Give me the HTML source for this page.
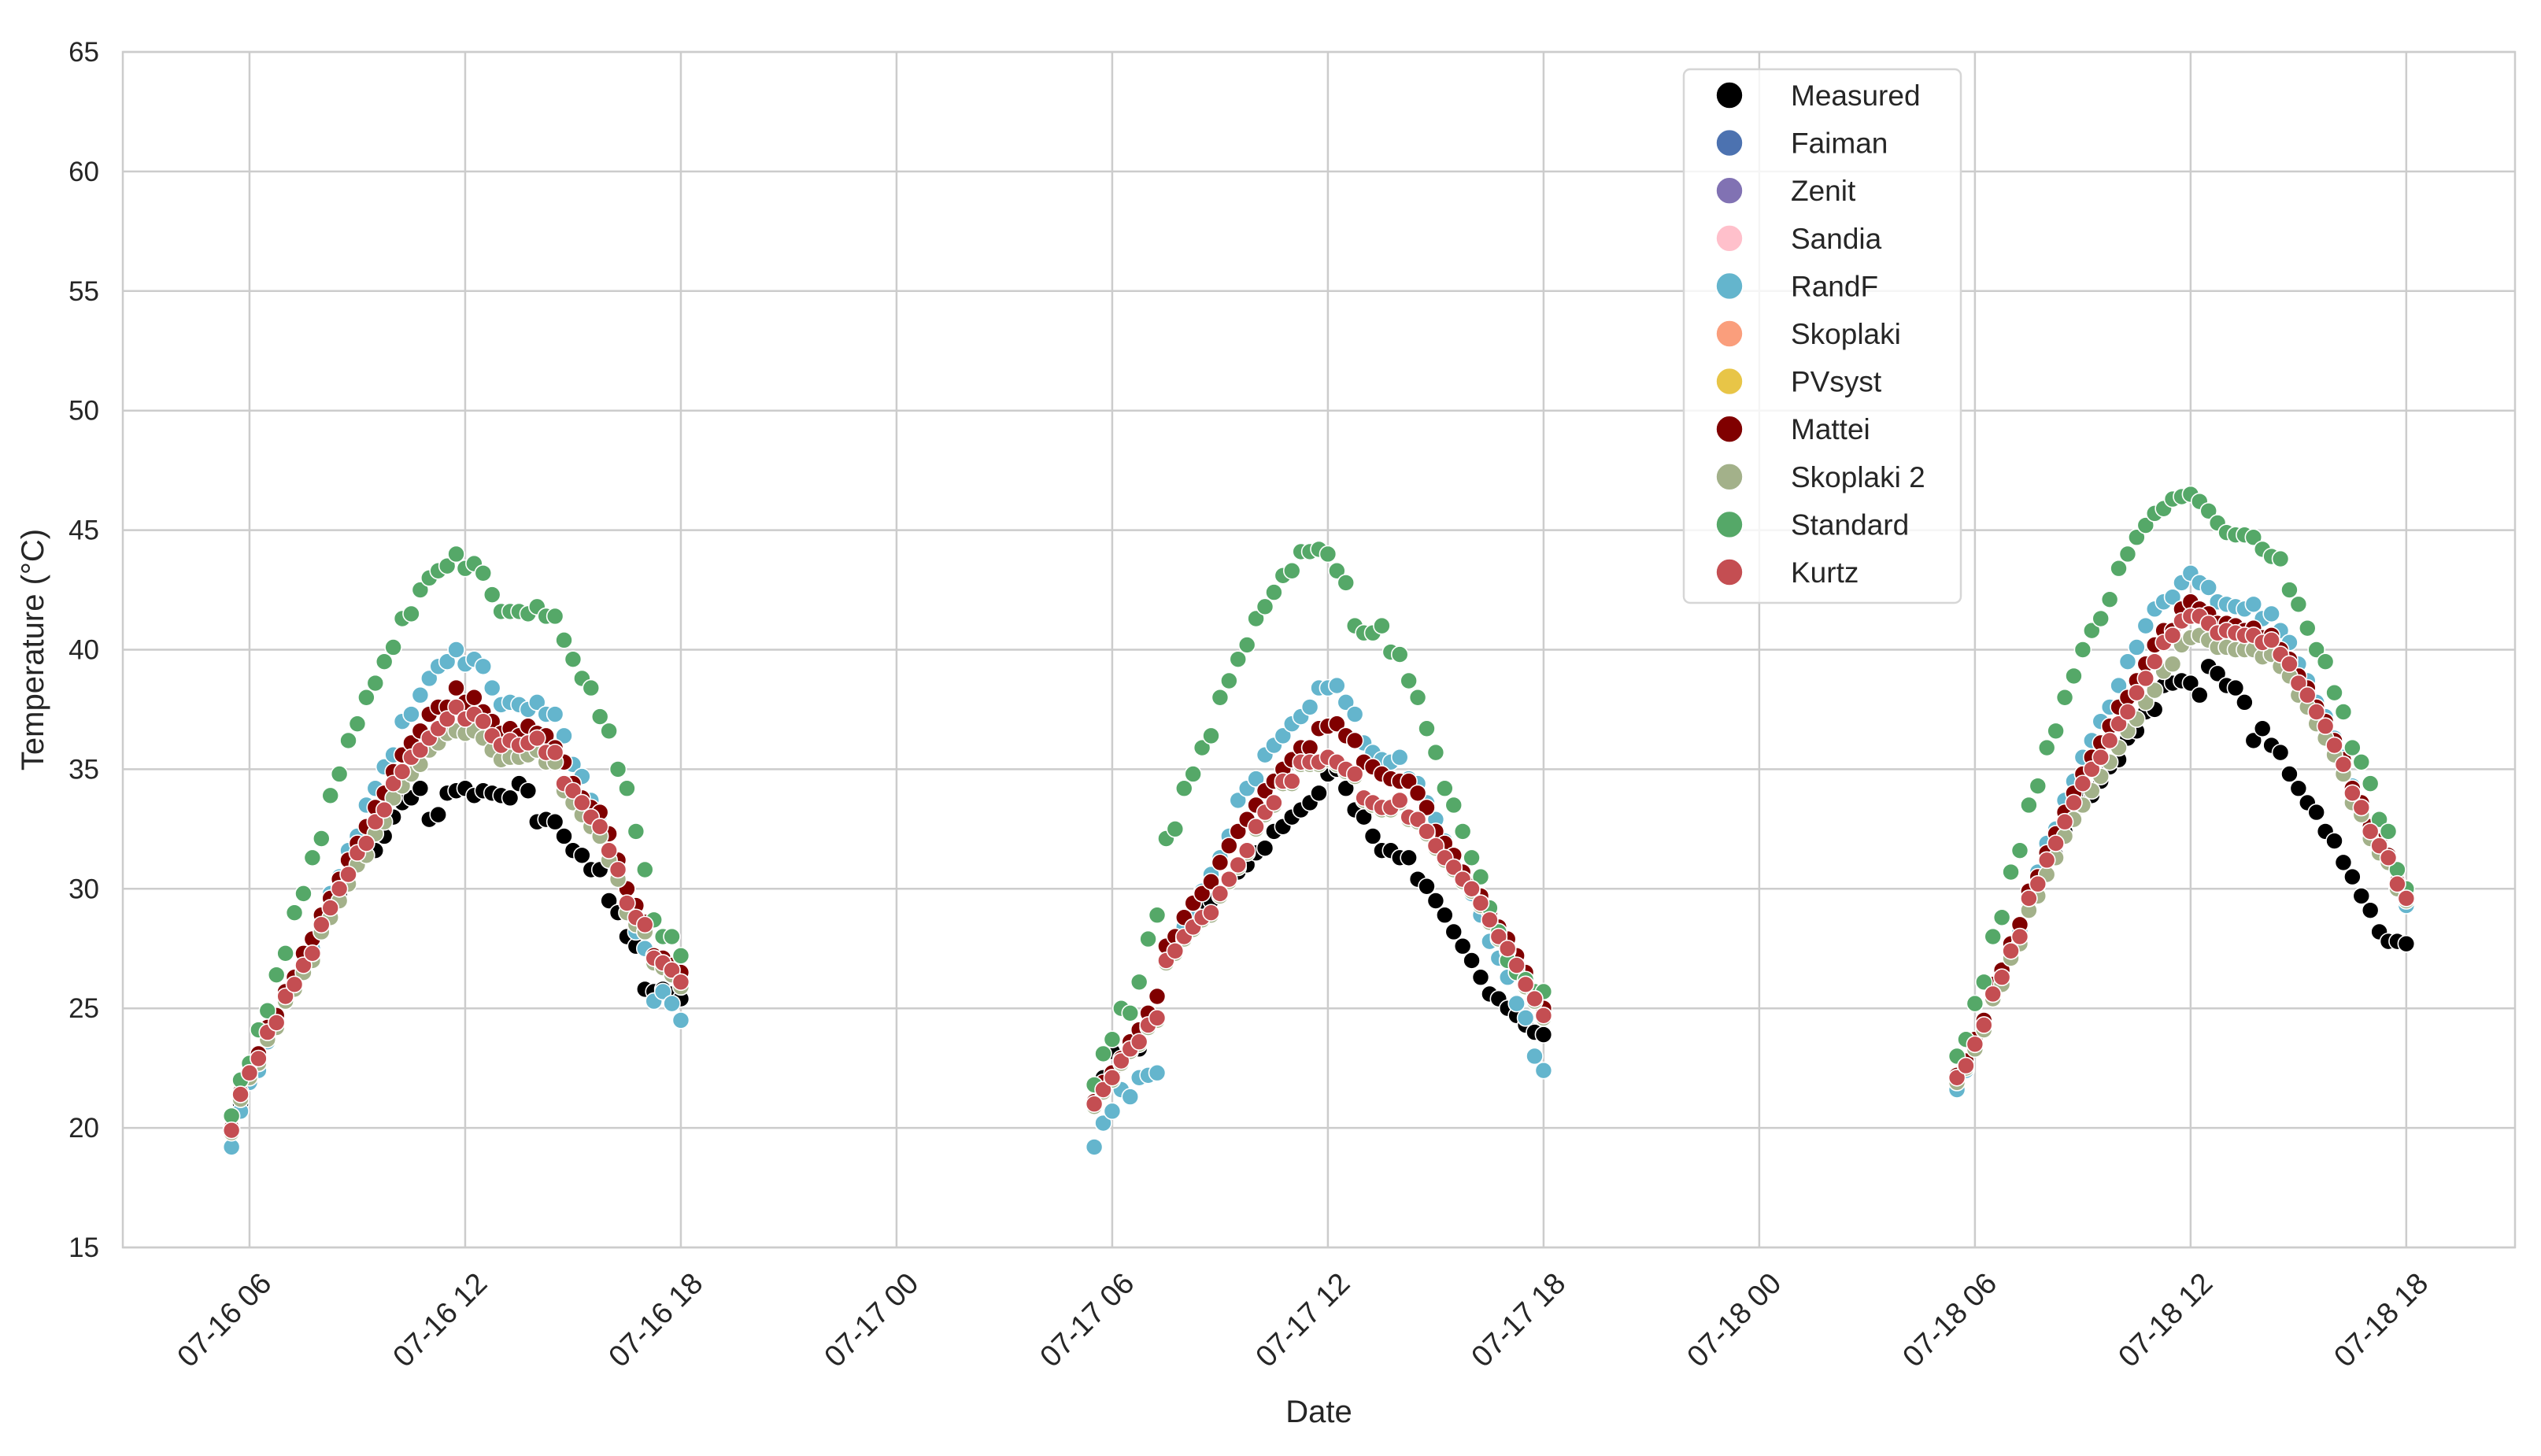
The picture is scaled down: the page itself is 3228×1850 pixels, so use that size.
<!DOCTYPE html>
<html><head><meta charset="utf-8">
<style>
html,body{margin:0;padding:0;background:#fff;}
svg{display:block;font-family:"Liberation Sans",Arial,sans-serif;}
</style></head>
<body>
<svg id="chart" width="3228" height="1850" viewBox="0 0 3228 1850" xmlns="http://www.w3.org/2000/svg">
<rect x="0" y="0" width="3228" height="1850" fill="#fff"/>
<g id="grid"></g>
<g id="marks"></g>
<g id="axes"></g>
<g id="legend"></g>
</svg>
<script>
const days = ['07-16','07-17','07-18'];
const startHour = 5.5;
const stepHour = 0.25;
const yTicks = [15,20,25,30,35,40,45,50,55,60,65];
const xTickHours = [6,12,18,24,30,36,42,48,54,60,66];
const xTickLabels = ['07-16 06','07-16 12','07-16 18','07-17 00','07-17 06','07-17 12','07-17 18','07-18 00','07-18 06','07-18 12','07-18 18'];
const seriesNames = ['Measured','Faiman','Zenit','Sandia','RandF','Skoplaki','PVsyst','Mattei','Skoplaki 2','Standard','Kurtz'];
const seriesColors = ['#000000','#4c72b0','#8172b3','#ffc0cb','#64b5cd','#fa9e7c','#e8c547','#800000','#a3b18a','#55a868','#c44e52'];

const measured = [
19.9,21,22.3,22.8,24,24.6,25.5,26.2,26.6,27.9,28.2,29.1,29.8,30.6,31.2,31.6,31.6,32.2,33.0,33.6,33.8,34.2,32.9,33.1,34.0,34.1,34.2,33.9,34.1,34.0,33.9,33.8,34.4,34.1,32.8,32.9,32.8,32.2,31.6,31.4,30.8,30.8,29.5,29.0,28.0,27.6,25.8,25.7,25.8,25.6,25.4,
21.0,22.1,23.2,22.9,23.4,23.3,24.2,24.5,27.6,27.7,28.4,28.9,29.4,29.5,29.7,30.3,30.7,31.0,31.5,31.7,32.4,32.6,33.0,33.3,33.6,34.0,34.8,35.0,34.2,33.3,33.0,32.2,31.6,31.6,31.3,31.3,30.4,30.1,29.5,28.9,28.2,27.6,27.0,26.3,25.6,25.4,25.0,24.7,24.3,24.0,23.9,
22.2,22.8,23.6,24.4,25.8,26.4,27.4,28.0,29.2,30.3,30.6,31.4,32.4,33.0,33.7,33.9,34.5,35.1,35.4,36.3,36.6,37.4,37.5,38.5,38.6,38.7,38.6,38.1,39.3,39.0,38.5,38.4,37.8,36.2,36.7,36.0,35.7,34.8,34.2,33.6,33.2,32.4,32.0,31.1,30.5,29.7,29.1,28.2,27.8,27.8,27.7];
const randf = [
19.2,20.7,21.9,22.4,23.6,24.2,25.3,25.8,26.9,27.5,28.7,29.8,30.5,31.6,32.2,33.5,34.2,35.1,35.6,37.0,37.3,38.1,38.8,39.3,39.5,40.0,39.4,39.6,39.3,38.4,37.7,37.8,37.7,37.5,37.8,37.3,37.3,36.4,35.2,34.7,33.7,33.1,31.6,30.6,29.4,28.2,27.5,25.3,25.7,25.2,24.5,
19.2,20.2,20.7,21.6,21.3,22.1,22.2,22.3,27.6,28.0,28.4,29.0,29.9,30.6,31.3,32.2,33.7,34.2,34.6,35.6,36.0,36.4,36.9,37.2,37.6,38.4,38.4,38.5,37.8,37.3,36.1,35.7,35.4,35.3,35.5,34.6,34.4,33.6,32.9,32.0,31.3,30.6,29.8,28.9,27.8,27.1,26.3,25.2,24.6,23.0,22.4,
21.6,22.4,23.5,24.3,25.7,26.2,27.4,28.2,29.9,30.7,31.9,32.5,33.7,34.5,35.5,36.2,37.0,37.6,38.5,39.5,40.1,41.0,41.7,42.0,42.2,42.8,43.2,42.8,42.6,42.0,41.9,41.8,41.7,41.9,41.3,41.5,40.8,40.3,39.4,38.7,37.8,37.2,36.3,35.5,34.3,33.6,32.6,32.0,31.3,30.0,29.3];
const mattei = [
20.0,21.5,22.4,23.1,24.2,24.7,25.7,26.3,27.3,27.9,28.9,29.6,30.4,31.2,31.9,32.6,33.4,34.0,34.9,35.6,36.1,36.6,37.3,37.6,37.6,38.4,37.8,38.0,37.4,37.0,36.5,36.7,36.4,36.8,36.5,36.4,35.9,35.3,34.4,33.8,33.4,33.2,32.3,31.2,30.0,29.3,28.6,27.2,27.1,26.8,26.5,
21.1,21.9,22.3,22.9,23.6,24.1,24.8,25.5,27.6,28.0,28.8,29.4,29.8,30.3,31.1,31.8,32.4,32.9,33.5,34.1,34.5,35.0,35.4,35.9,35.9,36.7,36.8,36.9,36.4,36.2,35.3,35.1,34.8,34.6,34.5,34.5,34.0,33.4,32.4,31.9,31.4,30.7,30.1,29.7,29.0,28.4,27.9,27.2,26.5,25.6,25.0,
22.2,22.8,23.7,24.5,26.0,26.6,27.7,28.5,29.9,30.5,31.5,32.3,33.2,34.0,34.8,35.5,36.1,36.8,37.6,38.0,38.7,39.4,40.2,40.8,40.8,41.7,42.0,41.7,41.5,41.1,41.1,41.0,40.8,40.9,40.5,40.6,40.0,39.6,38.9,38.4,37.6,37.0,36.2,35.4,34.2,33.6,32.6,32.0,31.4,30.3,29.8];
const skoplaki2 = [
19.8,21.2,22.1,22.7,23.7,24.2,25.3,25.8,26.5,27.0,28.2,28.8,29.5,30.2,31.0,31.4,32.3,32.8,33.8,34.3,34.8,35.2,35.8,36.1,36.5,36.6,36.5,36.6,36.3,35.8,35.4,35.5,35.5,35.6,35.8,35.3,35.3,34.1,33.6,33.1,32.6,32.2,31.2,30.4,29.0,28.5,28.2,26.9,26.7,26.4,25.9,
20.9,21.5,22.0,22.7,23.2,23.5,24.2,24.5,26.9,27.3,27.9,28.3,28.7,28.9,29.7,30.3,30.9,31.5,32.5,33.1,33.5,34.4,34.4,35.2,35.2,35.2,35.4,35.2,34.9,34.7,33.7,33.5,33.3,33.3,33.6,32.9,32.8,32.3,31.7,31.2,30.8,30.3,29.9,29.3,28.6,27.9,27.4,26.7,25.9,25.3,24.6,
21.9,22.5,23.3,24.1,25.4,26.0,27.1,27.7,29.1,29.7,30.6,31.3,32.2,32.9,33.5,34.1,34.7,35.3,35.9,36.6,37.1,37.8,38.3,39.1,39.4,40.2,40.5,40.6,40.4,40.1,40.1,40.0,40.0,40.0,39.7,39.8,39.3,38.9,38.1,37.6,36.9,36.3,35.6,34.8,33.6,33.1,32.1,31.5,31.1,30.0,29.5];
const standard = [
20.5,22.0,22.7,24.1,24.9,26.4,27.3,29.0,29.8,31.3,32.1,33.9,34.8,36.2,36.9,38.0,38.6,39.5,40.1,41.3,41.5,42.5,43.0,43.3,43.5,44.0,43.4,43.6,43.2,42.3,41.6,41.6,41.6,41.5,41.8,41.4,41.4,40.4,39.6,38.8,38.4,37.2,36.6,35.0,34.2,32.4,30.8,28.7,28.0,28.0,27.2,
21.8,23.1,23.7,25.0,24.8,26.1,27.9,28.9,32.1,32.5,34.2,34.8,35.9,36.4,38.0,38.7,39.6,40.2,41.3,41.8,42.4,43.1,43.3,44.1,44.1,44.2,44.0,43.3,42.8,41.0,40.7,40.7,41.0,39.9,39.8,38.7,38.0,36.7,35.7,34.2,33.5,32.4,31.3,30.5,29.2,28.2,27.0,26.5,26.2,25.7,25.7,
23.0,23.7,25.2,26.1,28.0,28.8,30.7,31.6,33.5,34.3,35.9,36.6,38.0,38.9,40.0,40.8,41.3,42.1,43.4,44.0,44.7,45.2,45.7,45.9,46.3,46.4,46.5,46.2,45.8,45.3,44.9,44.8,44.8,44.7,44.2,43.9,43.8,42.5,41.9,40.9,40.0,39.5,38.2,37.4,35.9,35.3,34.4,32.9,32.4,30.8,30.0];
const kurtz = [
19.9,21.4,22.3,22.9,24.0,24.4,25.5,26.0,26.8,27.3,28.5,29.2,30.0,30.6,31.5,31.9,32.8,33.3,34.4,34.9,35.5,35.8,36.3,36.7,37.1,37.6,37.1,37.3,37.0,36.4,36.0,36.2,36.0,36.1,36.3,35.7,35.7,34.4,34.1,33.6,33.0,32.6,31.6,30.8,29.4,28.8,28.5,27.1,26.9,26.6,26.1,
21.0,21.6,22.1,22.8,23.3,23.6,24.3,24.6,27.0,27.4,28.0,28.4,28.8,29.0,29.8,30.4,31.0,31.6,32.6,33.2,33.6,34.5,34.5,35.3,35.3,35.3,35.5,35.3,35.0,34.8,33.8,33.6,33.4,33.4,33.7,33.0,32.9,32.4,31.8,31.3,30.9,30.4,30.0,29.4,28.7,28.0,27.5,26.8,26.0,25.4,24.7,
22.1,22.6,23.5,24.3,25.6,26.3,27.4,28.0,29.6,30.2,31.2,31.9,32.8,33.6,34.4,35.0,35.5,36.2,36.9,37.4,38.2,38.8,39.5,40.3,40.6,41.2,41.4,41.4,41.1,40.7,40.8,40.7,40.6,40.6,40.3,40.4,39.8,39.4,38.6,38.1,37.4,36.8,36.0,35.2,34.0,33.4,32.4,31.8,31.3,30.2,29.6];

const NS = 'http://www.w3.org/2000/svg';
const L = 156, R = 3195, T = 66, B = 1585;
const perDay = measured.length / days.length;
const tMin = startHour, tMax = 48 + startHour + stepHour * (perDay - 1);
const pad = (tMax - tMin) * 0.05;
const x0 = tMin - pad, x1 = tMax + pad;
function xs(h){ return L + (h - x0) / (x1 - x0) * (R - L); }
function ys(v){ return B - (v - 15) / 50 * (B - T); }
function hourOf(i){ const d = Math.floor(i / perDay), k = i % perDay; return d * 24 + startHour + k * stepHour; }
function mk(tag, attrs, parent){ const e = document.createElementNS(NS, tag); for (const k in attrs) e.setAttribute(k, attrs[k]); parent.appendChild(e); return e; }

const grid = document.getElementById('grid');
yTicks.forEach(v => {
  const l = mk('line', {x1:L, x2:R, y1:ys(v), y2:ys(v), stroke:'#cccccc', 'stroke-width':2.5}, grid);
  
  
});
xTickHours.forEach(h => {
  const l = mk('line', {x1:xs(h), x2:xs(h), y1:T, y2:B, stroke:'#cccccc', 'stroke-width':2.5}, grid);
  
  
});

const marks = document.getElementById('marks');
const drawList = [[measured,0],[randf,4],[mattei,7],[skoplaki2,8],[standard,9],[kurtz,10]];
drawList.forEach(([arr, si]) => {
  const g = mk('g', {}, marks);
  
  
  arr.forEach((v, i) => {
    const c = mk('circle', {cx:xs(hourOf(i)), cy:ys(v), r:10.5, fill:seriesColors[si], stroke:'#fff', 'stroke-width':1.6}, g);
    
    
  });
});

const axes = document.getElementById('axes');
const frame = mk('rect', {x:L, y:T, width:R-L, height:B-T, fill:'none', stroke:'#cccccc', 'stroke-width':2.5}, axes);


yTicks.forEach(v => {
  const t = mk('text', {x:126, y:ys(v)+12, 'text-anchor':'end', 'font-size':35, fill:'#262626'}, axes);
  t.textContent = v;
  
  
});
xTickHours.forEach((h, i) => {
  const x = xs(h) + 30, y = B + 48;
  const t = mk('text', {x:x, y:y, 'text-anchor':'end', 'font-size':38, fill:'#262626', transform:'rotate(-45 '+x+' '+y+')'}, axes);
  t.textContent = xTickLabels[i];
  
  
});
const xt = mk('text', {x:(L+R)/2, y:1807, 'text-anchor':'middle', 'font-size':40, fill:'#262626'}, axes);
xt.textContent = 'Date';


const yt = mk('text', {x:0, y:0, 'text-anchor':'middle', 'font-size':40, fill:'#262626', transform:'translate(55 '+((T+B)/2)+') rotate(-90)'}, axes);
yt.textContent = 'Temperature (°C)';



const legend = document.getElementById('legend');
const box = mk('rect', {x:2139, y:88, width:352, height:678, rx:8, fill:'#ffffff', 'fill-opacity':0.8, stroke:'#d6d6d6', 'stroke-width':2.5}, legend);


seriesNames.forEach((n, i) => {
  const g = mk('g', {}, legend);
  
  
  const cy = 121 + i * 60.6;
  mk('circle', {cx:2197, cy:cy, r:17, fill:seriesColors[i], stroke:'#fff', 'stroke-width':1.6}, g);
  const t = mk('text', {x:2275, y:cy+13, 'font-size':37, fill:'#262626'}, g);
  t.textContent = n;
});
</script>
</body></html>
